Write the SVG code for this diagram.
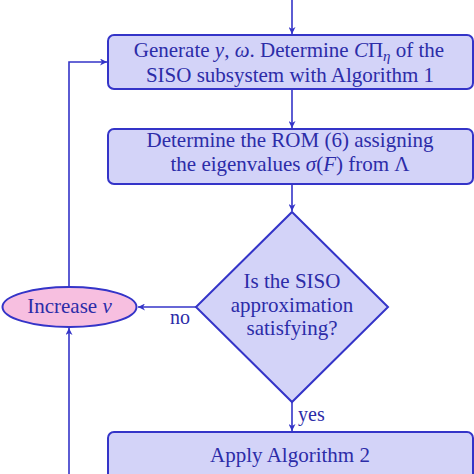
<svg xmlns="http://www.w3.org/2000/svg" width="474" height="474" viewBox="0 0 474 474">
<defs>
<marker id="ah" viewBox="0 0 10 10" refX="10" refY="5" markerWidth="7" markerHeight="7" orient="auto" markerUnits="userSpaceOnUse">
<path d="M0,0 L10,5 L0,10 L3,5 Z" fill="#3434c8"/>
</marker>
<style>
.box{fill:#d3d3f8;stroke:#3434c8;stroke-width:2}
.ell{fill:#f7bfe0;stroke:#3434c8;stroke-width:2}
.t{font-family:"Liberation Serif",serif;font-size:21px;fill:#2c2ca8;text-anchor:middle}
.lbl{font-family:"Liberation Serif",serif;font-size:20px;fill:#2c2ca8}
.m{font-style:italic}
.c{fill:none;stroke:#3434c8;stroke-width:1.6}
</style>
</defs>
<g id="connectors">
<path class="c" d="M292,0 V34" marker-end="url(#ah)"/>
<path class="c" d="M292,89 V128" marker-end="url(#ah)"/>
<path class="c" d="M292,184 V211" marker-end="url(#ah)"/>
<path class="c" d="M196,307 H138" marker-end="url(#ah)"/>
<path class="c" d="M292,402 V431" marker-end="url(#ah)"/>
<path class="c" d="M69,287 V62 H107" marker-end="url(#ah)"/>
<path class="c" d="M69,474 V328" marker-end="url(#ah)"/>
<text class="lbl" x="180" y="324" text-anchor="middle">no</text>
<text class="lbl" x="298" y="421">yes</text>
</g>
<g id="n1">
<rect class="box" x="108" y="35" width="365" height="54" rx="6"/>
<text class="t" x="289" y="57">Generate <tspan class="m">y</tspan>, <tspan class="m">ω</tspan>. Determine <tspan class="m">C</tspan>Π<tspan class="m" font-size="15" dy="4">η</tspan><tspan dy="-4"> of the</tspan></text>
<text class="t" x="290" y="82">SISO subsystem with Algorithm 1</text>
</g>
<g id="n2">
<rect class="box" x="108" y="129" width="365" height="55" rx="6"/>
<text class="t" x="290" y="147">Determine the ROM (6) assigning</text>
<text class="t" x="290" y="171">the eigenvalues <tspan class="m">σ</tspan>(<tspan class="m">F</tspan>) from Λ</text>
</g>
<g id="n3">
<polygon class="box" points="292,212 388,307 292,402 196,307"/>
<text class="t" x="292" y="288">Is the SISO</text>
<text class="t" x="292" y="312">approximation</text>
<text class="t" x="292" y="335">satisfying?</text>
</g>
<g id="n4">
<ellipse class="ell" cx="69.5" cy="307" rx="67" ry="20"/>
<text class="t" x="69.5" y="313">Increase <tspan class="m">ν</tspan></text>
</g>
<g id="n5">
<rect class="box" x="108" y="432" width="365" height="60" rx="6"/>
<text class="t" x="290" y="462">Apply Algorithm 2</text>
</g>
</svg>
